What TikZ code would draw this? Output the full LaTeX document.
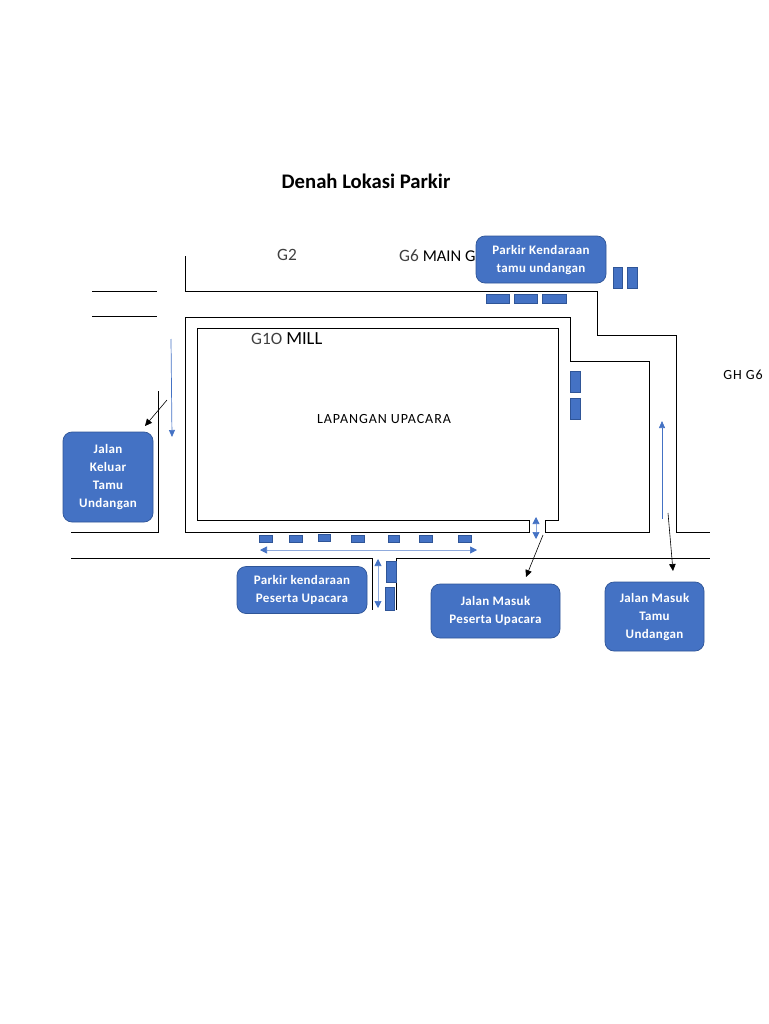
\documentclass[tikz,border=0pt]{standalone}
\usepackage{fontspec}
\setmainfont{Carlito}
\newfontfamily\widecall[LetterSpace=2.6]{Carlito}
\newfontfamily\widelabel[LetterSpace=6.5]{Carlito}
\usetikzlibrary{arrows.meta}
\definecolor{bluefill}{HTML}{4472C4}
\definecolor{blueedge}{HTML}{2F5597}
\definecolor{bluelight}{HTML}{8FAADC}
\definecolor{labelgrey}{HTML}{404040}
\tikzset{
  x=1pt,y=-1pt,
  wall/.style={draw=black,line width=1pt,line join=miter},
  callout/.style={draw=blueedge,line width=0.7pt,fill=bluefill,rounded corners=9pt,text=white,align=center,font=\widecall\fontsize{13}{18}\selectfont\bfseries,inner sep=0pt,anchor=center},
  bay/.style={draw=blueedge,line width=0.5pt,fill=bluefill},
  flow/.style={draw=bluefill,line width=0.7pt,-{Triangle[length=7pt,width=6pt]}},
  flowboth/.style={draw=bluelight,line width=0.7pt,{Triangle[length=7pt,width=7pt,color=bluefill]}-{Triangle[length=7pt,width=7pt,color=bluefill]}},
  pointer/.style={draw=black,line width=0.6pt,-{Triangle[length=7pt,width=6.5pt]}},
  place/.style={font=\fontsize{17.3}{20}\selectfont,text=black,inner sep=0pt},
}
\newcommand{\calloutbox}[6]{%
  \node[callout,minimum width=#3 pt,minimum height=#4 pt] (#5) at (#1,#2) {\raisebox{-1pt}{\begin{tabular}{@{}c@{}}#6\end{tabular}}};}
\begin{document}
\begin{tikzpicture}
\useasboundingbox (0,0) rectangle (768,1024);
% walls
\draw[wall] (185,256) -- (185,291) -- (597,291) -- (597,335) -- (676,335) -- (676,532) -- (710,532);
\draw[wall] (92,291) -- (157,291);
\draw[wall] (92,316) -- (157,316);
\draw[wall] (185,532) -- (185,317) -- (570,317) -- (570,361) -- (649,361) -- (649,532) -- (545,532) -- (545,520) -- (558.5,520) -- (558.5,328) -- (197,328) -- (197,520) -- (529,520) -- (529,532) -- (185,532);
\draw[wall] (158,391) -- (158,532) -- (71,532);
\draw[wall] (71,558) -- (372,558) -- (372,610);
\draw[wall] (396,610) -- (396,558) -- (710,558);
% place labels
\node[font=\bfseries\fontsize{20.7}{24}\selectfont,anchor=center] (title) at (366,181) {Denah Lokasi Parkir};
\node[place,text=labelgrey] (g2) at (287,255) {G2};
\node[place,anchor=west] (g6) at (399,255.5) {\textcolor{labelgrey}{G6} {\fontsize{16.5}{20}\selectfont MAIN G}};
\node[place,anchor=west] (g10) at (251,338.5) {\textcolor{labelgrey}{G1O} {\fontsize{18.5}{20}\selectfont MILL}};
\node[font=\widelabel\fontsize{14}{16}\selectfont,inner sep=0pt] (lap) at (384,419.5) {LAPANGAN UPACARA};
\node[font=\widelabel\fontsize{14}{16}\selectfont,inner sep=0pt] (gh) at (743,374.5) {GH G6};
% parking bays
\foreach \a/\b/\c/\d in {259/535/272/542, 289/535/302/542, 318/534/330/541, 351/535/364/542, 388/535/399/542, 419/535/432/542, 458/535/471/542,
  386/561/396/582, 385/587/394/610,
  486/294/509/303, 514/294/537/303, 542/294/566/303,
  613/267/622/288, 627/267/637/288,
  570/371/580/392, 570/398/580/419}
  \draw[bay] (\a,\b) rectangle (\c,\d);
% callouts
\calloutbox{541}{259.5}{130}{47}{kend}{Parkir Kendaraan\\tamu undangan}
\calloutbox{108}{477}{90}{90}{keluar}{Jalan\\Keluar\\Tamu\\Undangan}
\calloutbox{302}{590}{130}{47}{peserta}{Parkir kendaraan\\Peserta Upacara}
\calloutbox{495.5}{611}{129}{54}{masuk}{Jalan Masuk\\Peserta Upacara}
\calloutbox{654.5}{616.5}{99}{69}{tamu}{Jalan Masuk\\Tamu\\Undangan}
% arrow ends
\coordinate (a1) at (171,339); \coordinate (a2) at (172,437);
\coordinate (b1) at (662,519); \coordinate (b2) at (662,421);
\coordinate (c1) at (260,550); \coordinate (c2) at (477,550);
\coordinate (d1) at (378,559); \coordinate (d2) at (378,608);
\coordinate (e1) at (536,517); \coordinate (e2) at (536,539);
\coordinate (f1) at (167,400); \coordinate (f2) at (145,426);
\coordinate (g1) at (543,535); \coordinate (g2e) at (526,577);
\coordinate (h1) at (668,513); \coordinate (h2) at (673,571);
\draw[flow] (a1) -- (a2);
\draw[flow] (b1) -- (b2);
\draw[flowboth] (c1) -- (c2);
\draw[flowboth] (d1) -- (d2);
\draw[flowboth] (e1) -- (e2);
\draw[pointer] (f1) -- (f2);
\draw[pointer] (g1) -- (g2e);
\draw[pointer] (h1) -- (h2);
\end{tikzpicture}
\end{document}
